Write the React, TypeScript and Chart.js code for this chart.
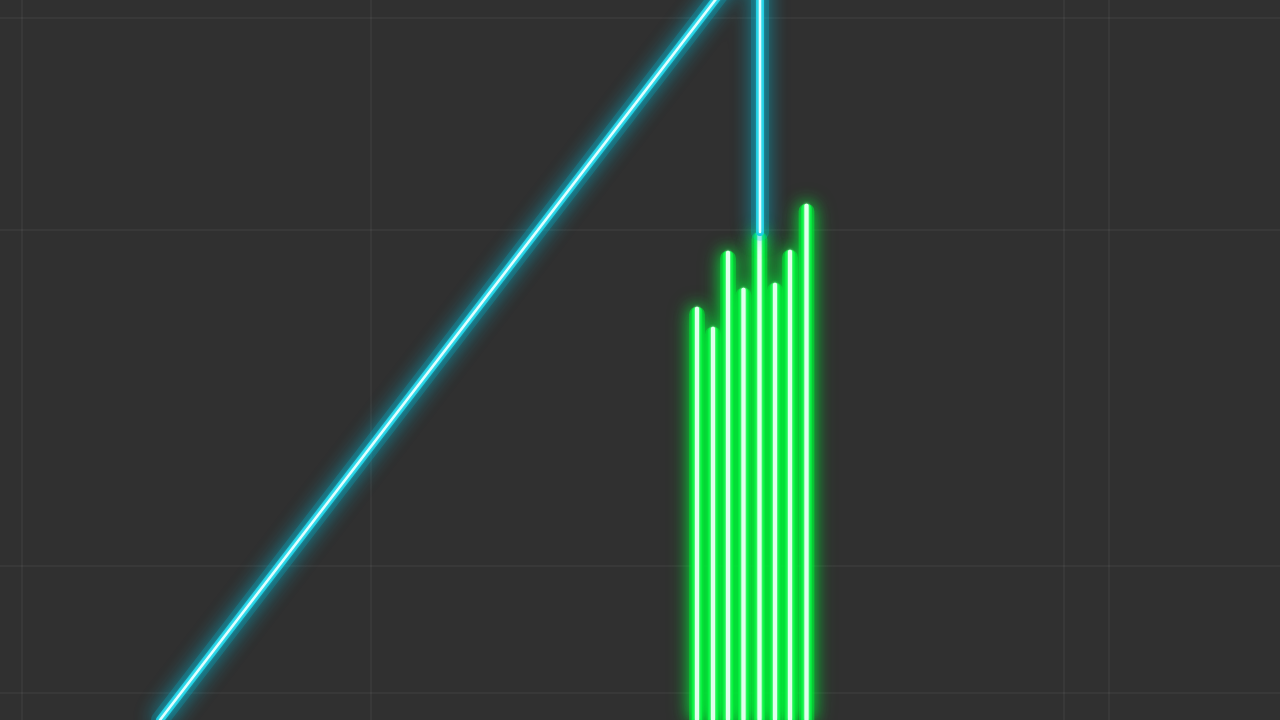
import React, { useEffect, useRef } from "react";
import { Chart, registerables } from "chart.js";

Chart.register(...registerables);

// Data (abstract units: x 0..128, y 0..72)
const barPositions = [69.7, 71.3, 72.8, 74.35, 75.95, 77.5, 79.0, 80.65];
const barValues = [41.3, 39.3, 46.9, 43.2, 48.8, 43.7, 47.0, 51.6];
const traceX = [16.0, 76.0, 76.0];
const traceY = [0, 77.8, 48.8];
const xGridTicks = [2.2, 37.1, 106.4, 110.9];
const yGridTicks = [2.7, 15.4, 49.0, 70.2];

const glowPlugin = {
  id: "glow",
  beforeDatasetDraw(chart: any, args: any) {
    const ds = chart.data.datasets[args.index];
    const ctx = chart.ctx;
    ctx.save();
    if (ds.glowColor) {
      ctx.shadowColor = ds.glowColor;
      ctx.shadowBlur = ds.glowBlur || 12;
      ctx.shadowOffsetX = 0;
      ctx.shadowOffsetY = 0;
    }
  },
  afterDatasetDraw(chart: any) {
    chart.ctx.restore();
  },
};

const bgPlugin = {
  id: "bg",
  beforeDraw(chart: any) {
    const ctx = chart.ctx;
    ctx.save();
    ctx.fillStyle = "#303030";
    ctx.fillRect(0, 0, chart.width, chart.height);
    ctx.restore();
  },
};

export default function App() {
  const ref = useRef<HTMLCanvasElement | null>(null);

  useEffect(() => {
    document.body.style.margin = "0";
    document.body.style.background = "#303030";
    if (!ref.current) return;
    const bars = barPositions.map((x, i) => ({ x, y: barValues[i] }));
    const trace = traceX.map((x, i) => ({ x, y: traceY[i] }));
    const lineBase = { type: "line", data: trace, pointRadius: 0, tension: 0, borderJoinStyle: "miter", borderCapStyle: "round" };
    const barBase = { type: "bar", data: bars, grouped: false };
    const chart = new Chart(ref.current, {
      type: "bar",
      data: {
        datasets: [
          { ...lineBase, borderColor: "#e2feff", borderWidth: 2.5, order: 0, glowColor: "rgba(150,250,255,0.9)", glowBlur: 4 } as any,
          { ...lineBase, borderColor: "#10cbe0", borderWidth: 8, order: 1, glowColor: "rgba(0,205,235,1)", glowBlur: 20 } as any,
          { ...lineBase, borderColor: "rgba(0,190,220,0.22)", borderWidth: 18, order: 2, glowColor: "rgba(0,190,220,0.6)", glowBlur: 24 } as any,
          { ...barBase, backgroundColor: "#e0ffec", barThickness: 3.5, borderRadius: 1.75, order: 3, glowColor: "rgba(190,255,210,0.9)", glowBlur: 3 } as any,
          { ...barBase, backgroundColor: "#00f03c", barThickness: 10, borderRadius: 5, order: 4, glowColor: "rgba(0,255,60,1)", glowBlur: 16 } as any,
          { ...barBase, backgroundColor: "rgba(0,225,55,0.55)", barThickness: 15, borderRadius: 7.5, order: 5, glowColor: "rgba(0,230,60,0.8)", glowBlur: 22 } as any,
        ],
      },
      options: {
        animation: false,
        responsive: true,
        maintainAspectRatio: false,
        layout: { padding: 0 },
        plugins: { legend: { display: false }, tooltip: { enabled: false } },
        scales: {
          x: {
            type: "linear",
            offset: false,
            min: 0,
            max: 128,
            ticks: { display: false },
            border: { display: false },
            grid: { color: "rgba(255,255,255,0.045)", lineWidth: 2, drawTicks: false, offset: false },
            afterBuildTicks: (axis: any) => {
              axis.ticks = xGridTicks.map((v) => ({ value: v }));
            },
          },
          y: {
            type: "linear",
            min: 0,
            max: 72,
            ticks: { display: false },
            border: { display: false },
            grid: { color: "rgba(255,255,255,0.045)", lineWidth: 2, drawTicks: false },
            afterBuildTicks: (axis: any) => {
              axis.ticks = yGridTicks.map((v) => ({ value: v }));
            },
          },
        },
      } as any,
      plugins: [bgPlugin, glowPlugin],
    });
    return () => chart.destroy();
  }, []);

  return (
    <div style={{ width: 1280, height: 720, background: "#303030", position: "relative" }}>
      <canvas ref={ref} />
    </div>
  );
}
